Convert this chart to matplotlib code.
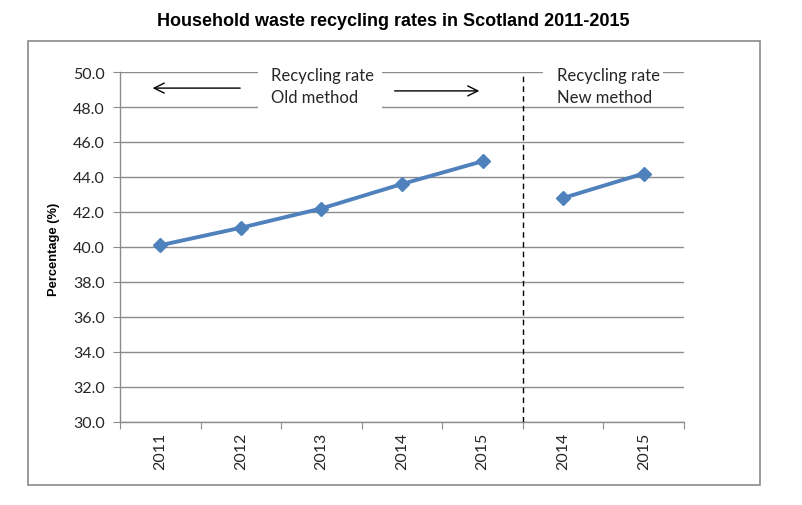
import numpy as np
import matplotlib
matplotlib.use("Agg")
import matplotlib.pyplot as plt
from matplotlib.patches import Rectangle

# Data
categories = ["2011", "2012", "2013", "2014", "2015", "2014", "2015"]
old_method = [40.1, 41.1, 42.2, 43.6, 44.9]
new_method = [42.8, 44.2]
y_ticks = [30.0, 32.0, 34.0, 36.0, 38.0, 40.0, 42.0, 44.0, 46.0, 48.0, 50.0]

title = "Household waste recycling rates in Scotland 2011-2015"
y_label = "Percentage (%)"

line_color = "#4F81BD"
grid_color = "#8C8C8C"
text_color = "#262626"
tick_font = "Lato"

fig = plt.figure(figsize=(8.02, 5.06), dpi=100)
fig.patch.set_facecolor("white")

# Outer chart border
fig.patches.append(Rectangle((28 / 802, 20 / 506), 732 / 802, 444 / 506,
                             transform=fig.transFigure, fill=False,
                             edgecolor="#8A8A8A", linewidth=1.2))

ax = fig.add_axes([120 / 802, 83 / 506, 564 / 802, 350 / 506])

x_old = np.arange(len(old_method))
x_new = np.arange(len(old_method), len(old_method) + len(new_method))

ax.plot(x_old, old_method, color=line_color, linewidth=2.8, marker="D",
        markersize=7, zorder=5)
ax.plot(x_new, new_method, color=line_color, linewidth=2.8, marker="D",
        markersize=7, zorder=5)

# Divider between methods
ax.axvline(len(old_method) - 0.5, color="black", linestyle=(0, (4, 3)),
           linewidth=1.0, zorder=4)

ax.set_xlim(-0.5, len(categories) - 0.5)
ax.set_ylim(y_ticks[0], y_ticks[-1])

# Y axis
ax.set_yticks(y_ticks)
ax.set_yticklabels([f"{v:.1f}" for v in y_ticks], fontsize=11.5,
                   family=tick_font, color=text_color)
ax.yaxis.grid(True, color=grid_color, linewidth=1.0)
ax.set_axisbelow(True)

# X axis: ticks between categories, labels at centres
ax.set_xticks(np.arange(-0.5, len(categories)), minor=False)
ax.set_xticklabels([])
ax.set_xticks(np.arange(len(categories)), minor=True)
ax.set_xticklabels(categories, minor=True, rotation=90, fontsize=11.5,
                   family=tick_font, color=text_color)
ax.tick_params(axis="x", which="major", length=5, color=grid_color, direction="out")
ax.tick_params(axis="x", which="minor", length=0, pad=7)
ax.tick_params(axis="y", length=5, color=grid_color, direction="out", pad=6)

for side in ["top", "right"]:
    ax.spines[side].set_visible(False)
for side in ["left", "bottom"]:
    ax.spines[side].set_color(grid_color)
    ax.spines[side].set_linewidth(1.0)

# Annotation boxes (white background hides gridlines)
ax.add_patch(Rectangle((0.245, 0.889), 0.22, 0.12, transform=ax.transAxes,
                       facecolor="white", edgecolor="none", zorder=3, clip_on=False))
ax.add_patch(Rectangle((0.75, 0.93), 0.213, 0.08, transform=ax.transAxes,
                       facecolor="white", edgecolor="none", zorder=3, clip_on=False))

ann_size = 12
ax.text(0.268, 0.991, "Recycling rate", transform=ax.transAxes, ha="left",
        va="center", fontsize=ann_size, family=tick_font, color=text_color, zorder=6)
ax.text(0.268, 0.929, "Old method", transform=ax.transAxes, ha="left",
        va="center", fontsize=ann_size, family=tick_font, color=text_color, zorder=6)
ax.text(0.775, 0.991, "Recycling rate", transform=ax.transAxes, ha="left",
        va="center", fontsize=ann_size, family=tick_font, color=text_color, zorder=6)
ax.text(0.775, 0.929, "New method", transform=ax.transAxes, ha="left",
        va="center", fontsize=ann_size, family=tick_font, color=text_color, zorder=6)

ax.annotate("", xy=(0.053, 0.954), xytext=(0.218, 0.954),
            xycoords="axes fraction",
            arrowprops=dict(arrowstyle="->", color="black", lw=1.0,
                            mutation_scale=18), zorder=6)
ax.annotate("", xy=(0.642, 0.946), xytext=(0.482, 0.946),
            xycoords="axes fraction",
            arrowprops=dict(arrowstyle="->", color="black", lw=1.0,
                            mutation_scale=18), zorder=6)

# Title and y label
fig.text(393 / 802, 1 - 21 / 506, title, ha="center", va="center",
         fontsize=13, fontweight="bold", family="Liberation Sans")
fig.text(54 / 802, 1 - 249 / 506, y_label, ha="center", va="center",
         rotation=90, fontsize=9.3, fontweight="bold", family="Liberation Sans")

fig.savefig("out.png", dpi=100)
